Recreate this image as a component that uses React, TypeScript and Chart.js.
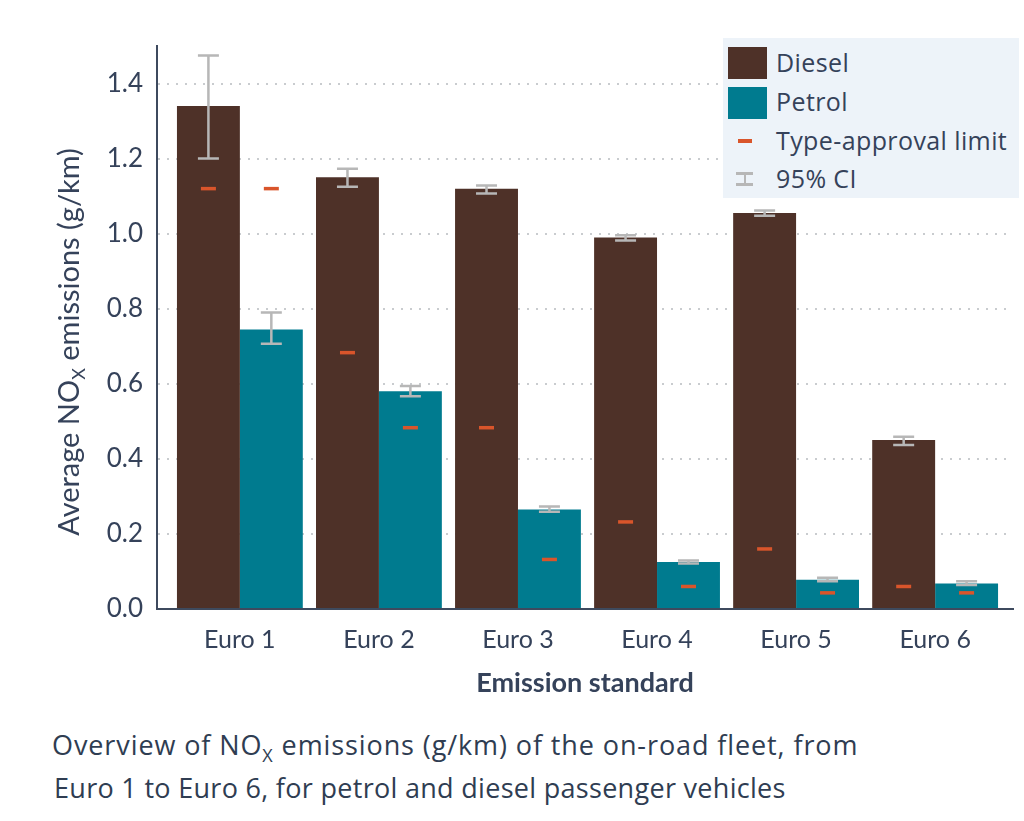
import React, { useEffect, useRef } from "react";
import { Chart, registerables } from "chart.js";

Chart.register(...registerables);

// Emission standards on the x axis
const categories = ["Euro 1", "Euro 2", "Euro 3", "Euro 4", "Euro 5", "Euro 6"];

// Average on-road NOx emissions (g/km)
const dieselMean = [1.34, 1.15, 1.12, 0.99, 1.055, 0.45];
const petrolMean = [0.745, 0.58, 0.265, 0.125, 0.078, 0.068];

// 95% confidence intervals
const dieselCiLow = [1.2, 1.125, 1.107, 0.982, 1.048, 0.437];
const dieselCiHigh = [1.475, 1.173, 1.128, 0.996, 1.062, 0.459];
const petrolCiLow = [0.707, 0.567, 0.259, 0.121, 0.074, 0.064];
const petrolCiHigh = [0.79, 0.594, 0.273, 0.129, 0.083, 0.074];

// Type-approval limits (g/km)
const dieselLimit = [1.12, 0.683, 0.483, 0.232, 0.16, 0.06];
const petrolLimit = [1.12, 0.483, 0.132, 0.06, 0.043, 0.043];

// y axis ticks
const yTicks = [0, 0.2, 0.4, 0.6, 0.8, 1.0, 1.2, 1.4];

const DIESEL = "#4e3128";
const PETROL = "#007b8f";
const LIMIT = "#d9552b";
const CI = "#b7b7b7";
const TEXT = "#35425a";
const FONT = "Lato, 'Open Sans', sans-serif";
const WIDE_FONT = "'Open Sans', Lato, sans-serif";

const CATEGORY_PCT = 0.905;
// offset (in category units) from a category centre to the centre of each bar
const BAR_OFFSET = CATEGORY_PCT / 4;

const errorBars = {
  id: "errorBars",
  afterDatasetsDraw(chart: any) {
    const { ctx } = chart;
    const y = chart.scales.y;
    const sets = [
      { idx: 0, lo: dieselCiLow, hi: dieselCiHigh },
      { idx: 1, lo: petrolCiLow, hi: petrolCiHigh },
    ];
    ctx.save();
    ctx.strokeStyle = CI;
    ctx.lineWidth = 2.5;
    const cap = 10.5;
    sets.forEach((s) => {
      const meta = chart.getDatasetMeta(s.idx);
      meta.data.forEach((el: any, i: number) => {
        const x = el.x;
        const yl = y.getPixelForValue(s.lo[i]);
        const yh = y.getPixelForValue(s.hi[i]);
        ctx.beginPath();
        ctx.moveTo(x, yl);
        ctx.lineTo(x, yh);
        ctx.moveTo(x - cap, yl);
        ctx.lineTo(x + cap, yl);
        ctx.moveTo(x - cap, yh);
        ctx.lineTo(x + cap, yh);
        ctx.stroke();
      });
    });
    ctx.restore();
  },
};

const axisTitles = {
  id: "axisTitles",
  afterDraw(chart: any) {
    const { ctx, chartArea } = chart;
    ctx.save();
    ctx.fillStyle = TEXT;
    // x axis title
    ctx.font = `bold 27px ${FONT}`;
    ctx.textAlign = "center";
    ctx.textBaseline = "middle";
    ctx.fillText("Emission standard", (chartArea.left + chartArea.right) / 2, 683);

    // y axis title with subscript X
    const big = `29px ${FONT}`;
    const small = `18px ${FONT}`;
    const p1 = "Average NO";
    const p2 = "X";
    const p3 = " emissions (g/km)";
    ctx.font = big;
    const w1 = ctx.measureText(p1).width;
    const w3 = ctx.measureText(p3).width;
    ctx.font = small;
    const w2 = ctx.measureText(p2).width;
    const total = w1 + w2 + w3;
    ctx.translate(79, 342);
    ctx.rotate(-Math.PI / 2);
    ctx.textAlign = "left";
    ctx.textBaseline = "alphabetic";
    let x = -total / 2;
    ctx.font = big;
    ctx.fillText(p1, x, 0);
    x += w1;
    ctx.font = small;
    ctx.fillText(p2, x, 6);
    x += w2;
    ctx.font = big;
    ctx.fillText(p3, x, 0);
    ctx.restore();
  },
};

export default function App() {
  const ref = useRef<HTMLCanvasElement>(null);

  useEffect(() => {
    if (!ref.current) return;
    const chart = new Chart(ref.current, {
      type: "bar",
      data: {
        datasets: [
          {
            type: "bar",
            label: "Diesel",
            data: dieselMean.map((v, i) => ({ x: i, y: v })),
            backgroundColor: DIESEL,
            categoryPercentage: CATEGORY_PCT,
            barPercentage: 1,
            order: 1,
          },
          {
            type: "bar",
            label: "Petrol",
            data: petrolMean.map((v, i) => ({ x: i, y: v })),
            backgroundColor: PETROL,
            categoryPercentage: CATEGORY_PCT,
            barPercentage: 1,
            order: 1,
          },
          {
            type: "scatter",
            label: "Type-approval limit (diesel)",
            data: dieselLimit.map((v, i) => ({ x: i - BAR_OFFSET, y: v })),
            pointStyle: "line",
            radius: 7.5,
            borderWidth: 3.5,
            borderColor: LIMIT,
            order: 0,
          },
          {
            type: "scatter",
            label: "Type-approval limit (petrol)",
            data: petrolLimit.map((v, i) => ({ x: i + BAR_OFFSET, y: v })),
            pointStyle: "line",
            radius: 7.5,
            borderWidth: 3.5,
            borderColor: LIMIT,
            order: 0,
          },
        ],
      } as any,
      options: {
        responsive: false,
        animation: false,
        layout: { padding: { left: 0, right: 10, top: 46, bottom: 0 } },
        plugins: {
          legend: { display: false },
          tooltip: { enabled: false },
        },
        scales: {
          x: {
            type: "linear",
            offset: false,
            min: -0.596,
            max: 5.56,
            afterFit: (s: any) => {
              s.height = 103;
            },
            afterBuildTicks: (s: any) => {
              s.ticks = categories.map((_, i) => ({ value: i }));
            },
            grid: { display: false, drawTicks: false, offset: false },
            border: { display: true, color: "#3e4a5e", width: 2 },
            ticks: {
              autoSkip: false,
              maxRotation: 0,
              padding: 16,
              color: TEXT,
              font: { family: FONT, size: 25 },
              callback: (v: any) => categories[Math.round(Number(v))] ?? "",
            },
          },
          y: {
            min: 0,
            max: 1.5,
            afterFit: (s: any) => {
              s.width = 157;
            },
            afterBuildTicks: (s: any) => {
              s.ticks = yTicks.map((v) => ({ value: v }));
            },
            grid: { color: "#c9cccf", lineWidth: 2, drawTicks: false },
            border: { display: true, color: "#3e4a5e", width: 2, dash: [2, 7] },
            ticks: {
              padding: 14,
              color: TEXT,
              font: { family: FONT, size: 26 },
              callback: (v: any) => Number(v).toFixed(1),
            },
          },
        },
      } as any,
      plugins: [errorBars, axisTitles],
    });
    return () => chart.destroy();
  }, []);

  const legendText: React.CSSProperties = {
    position: "absolute",
    left: 776,
    fontFamily: WIDE_FONT,
    fontSize: 25,
    letterSpacing: 0.4,
    color: TEXT,
    lineHeight: "30px",
    whiteSpace: "nowrap",
  };

  const caption: React.CSSProperties = {
    position: "absolute",
    fontFamily: WIDE_FONT,
    fontSize: 27,
    letterSpacing: 0.3,
    lineHeight: "36px",
    color: "#2f3d52",
    whiteSpace: "nowrap",
  };

  return (
    <div
      style={{
        position: "fixed",
        left: 0,
        top: 0,
        width: 1024,
        height: 821,
        background: "#ffffff",
        overflow: "hidden",
      }}
    >
      <canvas
        ref={ref}
        width={1024}
        height={712}
        style={{ position: "absolute", left: 0, top: 0, width: 1024, height: 712 }}
      />
      {/* legend */}
      <div
        style={{
          position: "absolute",
          left: 723,
          top: 38,
          width: 296,
          height: 160,
          background: "#edf3f9",
        }}
      />
      <div style={{ position: "absolute", left: 728, top: 47, width: 39, height: 32, background: DIESEL }} />
      <div style={{ ...legendText, top: 47 }}>Diesel</div>
      <div style={{ position: "absolute", left: 728, top: 87, width: 39, height: 32, background: PETROL }} />
      <div style={{ ...legendText, top: 86 }}>Petrol</div>
      <div style={{ position: "absolute", left: 738, top: 139, width: 14, height: 3.5, background: LIMIT }} />
      <div style={{ ...legendText, top: 125 }}>Type-approval limit</div>
      <div style={{ position: "absolute", left: 736, top: 172, width: 17, height: 2.5, background: CI }} />
      <div style={{ position: "absolute", left: 743.5, top: 172, width: 2.5, height: 13, background: CI }} />
      <div style={{ position: "absolute", left: 736, top: 183, width: 17, height: 2.5, background: CI }} />
      <div style={{ ...legendText, top: 163 }}>95% CI</div>
      {/* caption */}
      <div style={{ ...caption, left: 52, top: 727, letterSpacing: 0.9 }}>
        Overview of NO
        <span style={{ fontSize: 18, position: "relative", top: 7 }}>X</span> emissions (g/km) of the
        on-road fleet, from
      </div>
      <div style={{ ...caption, left: 54, top: 770 }}>
        Euro 1 to Euro 6, for petrol and diesel passenger vehicles
      </div>
    </div>
  );
}
